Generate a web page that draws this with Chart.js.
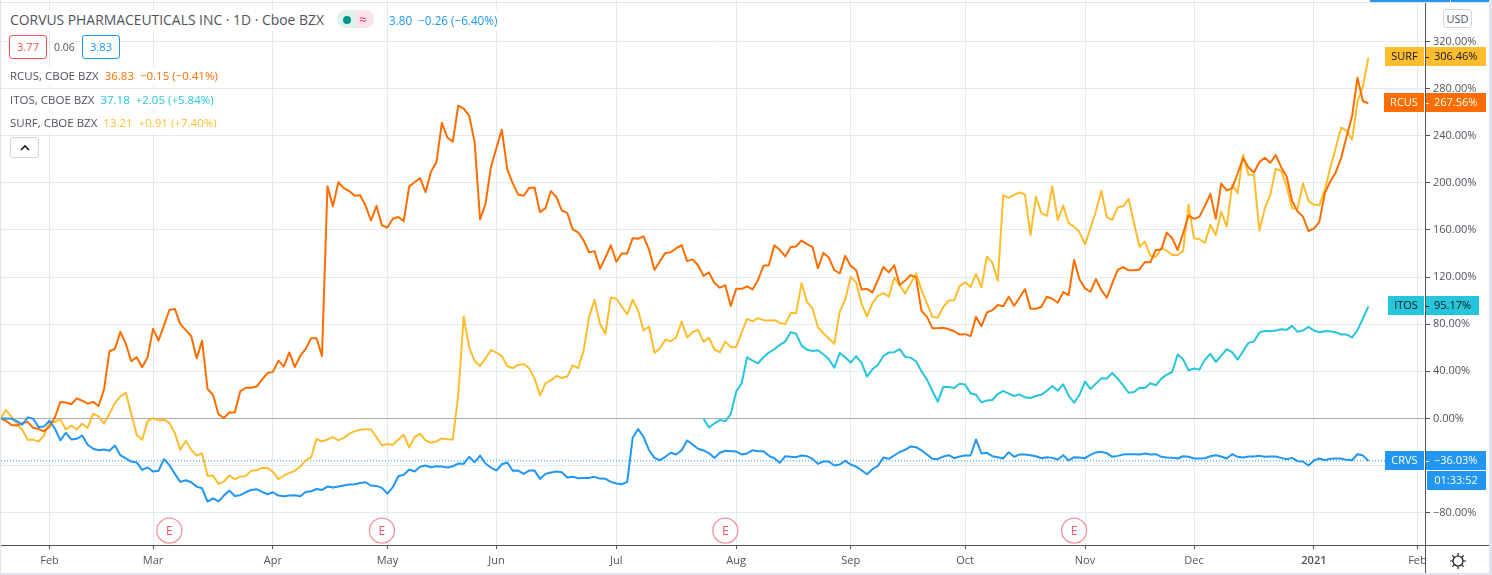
<!DOCTYPE html>
<html><head><meta charset="utf-8">
<script src="https://cdn.jsdelivr.net/npm/chart.js@4"></script>
<style>
html,body{margin:0;padding:0;background:#fff;overflow:hidden}
#wrap{position:relative;width:1492px;height:575px;font-family:"Open Sans",sans-serif;color:#50535e}
canvas{position:absolute;left:0;top:0}
.row{position:absolute;background:#fff;white-space:nowrap;font-size:11.5px;line-height:20px;height:20px;left:6px;padding:0 4px}
.box{position:absolute;background:#fff;border-radius:3px;text-align:center;box-sizing:border-box}
.abs{position:absolute}
</style></head><body>
<div id="wrap">
<canvas id="c" width="1492" height="575"></canvas>
<div class="row" style="top:10px;font-size:13.9px;width:320px;height:21px;line-height:20px">CORVUS PHARMACEUTICALS INC · 1D · Cboe BZX</div>
<div class="abs" style="left:337px;top:10px;width:37px;height:18px;border-radius:9px;background:#e0f1ee;overflow:hidden"><div class="abs" style="left:19px;top:0;width:18px;height:18px;background:#fce3ea"></div><div class="abs" style="left:6px;top:6px;width:8px;height:8px;border-radius:4px;background:#009688"></div><div class="abs" style="left:22px;top:0;font-size:13px;line-height:18px;color:#e91e63">≈</div></div>
<div class="abs" style="left:389px;top:10px;background:#fff;font-size:11.7px;line-height:21px;color:#2196f3;white-space:pre">3.80  −0.26 (−6.40%)</div>
<div class="box" style="left:9px;top:35px;width:38px;height:24px;border:1px solid #ef5350;color:#ef5350;font-size:11.2px;line-height:22px">3.77</div>
<div class="abs" style="left:54px;top:38px;font-size:10.5px;line-height:18px;background:#fff">0.06</div>
<div class="box" style="left:82px;top:35px;width:38px;height:24px;border:1px solid #2196f3;color:#2196f3;font-size:11.2px;line-height:22px">3.83</div>
<div class="row" style="top:66px">RCUS, CBOE BZX <span style="color:#ff6d00;white-space:pre"> 36.83  −0.15 (−0.41%)</span></div>
<div class="row" style="top:90px">ITOS, CBOE BZX <span style="color:#26c6da;white-space:pre"> 37.18  +2.05 (+5.84%)</span></div>
<div class="row" style="top:113px">SURF, CBOE BZX <span style="color:#fcbd2e;white-space:pre"> 13.21  +0.91 (+7.40%)</span></div>
<div class="box" style="left:10px;top:137px;width:29px;height:21px;border:1px solid #d1d4dc;color:#131722;font-size:12px;line-height:24px"><svg width="12" height="8" style="position:absolute;left:8px;top:6px"><path d="M2 6 L6 2 L10 6" fill="none" stroke="#131722" stroke-width="1.6"/></svg></div>
<div class="box" style="left:1443px;top:9px;width:29px;height:19px;border:1px solid #d1d4dc;font-size:11px;line-height:17px">USD</div>
<div class="abs" style="left:1370px;top:0;width:80px;height:2px;background:#2196f3"></div>
<div class="abs" style="left:1451px;top:0;width:38px;height:2px;background:#2196f3"></div>
<div class="abs" style="left:1425px;top:3px;width:1px;height:570px;background:#50535e"></div>
<div class="abs" style="left:0;top:545px;width:1489px;height:1px;background:#50535e"></div>
<div class="abs" style="left:0;top:2px;width:1489px;height:1px;background:#e0e3eb"></div>
<div class="abs" style="left:0;top:0;width:1px;height:575px;background:#e0e3eb"></div>
<div class="abs" style="left:1489px;top:0;width:3px;height:575px;background:#e0e3eb"></div>
<div class="abs" style="left:0;top:573px;width:1492px;height:2px;background:#e0e3eb"></div>
<svg class="abs" style="left:1449px;top:552px" width="18" height="18" viewBox="0 0 18 18"><circle cx="9" cy="9" r="5" fill="none" stroke="#131722" stroke-width="1.2"/><path d="M9 1V4M9 14V17M1 9H4M14 9H17M3.3 3.3L5.4 5.4M12.6 12.6L14.7 14.7M3.3 14.7L5.4 12.6M12.6 5.4L14.7 3.3" stroke="#131722" stroke-width="1.2"/></svg>
</div>
<script>
const xTickIndex=[9,28,50,71,91,113,135,156,177,199,219,241,260];
const xTickLabels=['Feb','Mar','Apr','May','Jun','Jul','Aug','Sep','Oct','Nov','Dec','2021','Feb'];
const yTickValues=[320,280,240,200,160,120,80,40,0,-40,-80];
const earningsIndex=[31,70,133,197];
const itosStart=129;
const RCUS=[0,-2,-5.5,-6,-4,-3,-8,-9,-11,-7,1,14,13.5,12,17,15,12.5,14,10.5,24.5,57,59,73.5,63.5,48.5,52,43.5,52,76,66,79,92,93,80,75,70,51,66,25,20,3.5,0.3,5,5,23,26,26,27,33,38.5,39.5,49,44,56,43.5,53,59,68,68,53,197,180,200.5,195.5,193,189,189.5,180.5,168,180.5,164,162,169.5,171,167.5,197,200.5,204,192,209.5,217.5,251,238.5,235,265.5,263,257,235,169,182,213.5,229.5,245,211.5,199.5,190,189,195.5,196,175,178.5,193,188,176.5,174.5,160.5,158,151,141,142,127,136.5,147,133,140,140,153,152.5,154.5,143.5,126,133.5,140.5,141,144.5,147,133.5,135,130,121,124,115,111,113,95.5,110,110,112,109.5,117.5,129.5,130,147,143,137.5,145.5,146,151,148,145.5,127.5,140.5,136.5,126,123,138,129.5,126,109.5,110,107,117.5,128.5,124,130,113.2,117,121.7,119.7,91.3,86.2,76.6,76.6,76.9,75.7,74,71.2,71.5,69.8,86.2,78.3,89.9,91.9,96.2,95.3,103.3,95.6,102.7,109.8,93,93,94.8,103.3,101.6,98.2,107.2,104.7,134.5,118,110.4,107.5,118.3,108.9,102.4,114.6,126,128.5,125.7,125.7,126.5,132.8,132.5,143,143.5,157.7,152.9,143,157.2,172.2,169.4,171.3,180.4,190.6,169.4,199.4,193.5,195.5,207.7,221,213,208.8,217.6,221.3,217,223.5,213.3,205.4,184.7,175.6,171.3,159.1,161.1,166.8,191.2,201.1,208.8,221,239.4,256.5,289.1,269.2,267.56];
const SURF=[0,7,1.7,-4.5,-9.6,-18.2,-18.2,-19.6,-14.5,-3,-3,-0.6,-9.4,-6,-9.4,-4.5,-8,4,1.7,-4.5,4,13,18.7,21.8,4,-13.9,-18.2,-2.3,0.3,-1.7,-1.1,-3.7,-12.5,-26.7,-19,-26.7,-31.5,-29.8,-48.8,-48.5,-55.6,-53.6,-48.5,-51.6,-49.4,-49,-44.3,-44,-42,-42,-45.4,-51.6,-48.5,-46.2,-44.5,-40.9,-35.7,-33.2,-17.3,-19.6,-17.9,-15.9,-18.7,-16.5,-13,-10.8,-9.6,-9.1,-9.4,-15.9,-23,-21.8,-22.4,-17.9,-13.9,-24.7,-15.9,-13,-18.7,-20.7,-19.6,-17,-17.6,-17.9,19.9,86.5,60.4,48.8,44.5,51,57.9,55.9,53,44.5,42.6,45.4,46.2,42.6,34,19.6,29.8,32.3,36,34.3,35.5,45.1,42.6,57.6,86,100.7,80.3,71.8,102.7,101.6,95,88.2,100.7,91.6,74.6,78,55.6,59.6,66.7,65.5,68.9,82.3,68.7,73.2,75.2,65,68.4,58.7,56.2,65.2,60.7,60.7,72.9,84.5,82.3,85.1,83.4,83.1,83.4,81.1,80,89.4,89.4,114.9,98.7,93.3,77.4,72.3,67.8,63.3,90.8,100.7,120,115.5,97.3,86.5,97.9,104.1,106.4,103.3,119.7,113,106,114.6,123.1,108.9,97.6,86.2,85.4,94.8,100.1,100.4,112.3,115.5,111.5,122.6,111.2,137.3,132.2,116.9,189.5,187.2,189.8,191.8,190,155.7,188.4,174.2,171.9,196.9,168.5,180.7,165.7,162.8,158,147.8,161.4,175.6,193.2,170.8,168.5,179.3,180.1,186.4,165.7,145.8,150.1,137.9,137.3,144.4,142.4,138.7,138.7,142.1,181.3,152.9,152.1,148.9,164.3,155.7,175.6,162.8,198.3,191.2,223.8,206.8,206.8,159.4,178.4,189.8,211.9,210.2,196.9,178.4,177.9,199.7,184.7,181.3,181,194,212.5,229.5,246.8,244.3,236.6,269.2,282,306.46];
const CRVS=[0,0,-0.3,-2.3,-5.4,0.9,-0.3,-7.4,-6.8,-2,-8.8,-18.7,-12.2,-17.9,-17.3,-14.5,-22.4,-25.8,-27,-26.4,-27.5,-23,-31.2,-34,-36.6,-37.4,-43.7,-41.7,-45.1,-44.5,-34.6,-39.7,-47.1,-53.9,-52.5,-54.2,-57.9,-59.3,-70.6,-67.8,-70.4,-65.5,-61.3,-65.8,-65.2,-62.7,-60.7,-60.1,-62.4,-64.4,-62.7,-65.5,-66.1,-65.5,-65.2,-66.1,-62.4,-61.8,-59.9,-60.7,-57.9,-58.7,-57.9,-57,-56.2,-55.9,-54.8,-54.2,-57,-57.3,-59,-63.8,-58.4,-49.1,-47.9,-43.4,-45.1,-41.1,-40,-41.4,-40.6,-40.9,-41.7,-40.6,-38.3,-38.6,-32.6,-37.2,-31.5,-38.3,-41.7,-44.3,-38.9,-37.4,-44.5,-44.3,-47.1,-44.3,-44.3,-51.3,-47.1,-46,-45.1,-45.7,-50.2,-49.6,-50.8,-50.5,-50.5,-49.6,-51.1,-51.3,-53.9,-55.3,-55.9,-53.9,-16.5,-9.1,-15.6,-27,-33.5,-35.5,-32.6,-29.2,-30.6,-27,-18.7,-22.1,-25.8,-27.2,-29.5,-33.5,-29.2,-27.5,-27.8,-28.1,-30.6,-29.8,-27,-27.8,-27.8,-31.8,-33.8,-37.7,-32.1,-32.6,-32.9,-31.5,-32.1,-34.3,-38.6,-36.6,-36.6,-40,-39.1,-36,-39.1,-40.9,-44,-47.4,-43.1,-40.3,-33.2,-34.3,-31.5,-28.5,-26.7,-23.8,-24.4,-27.2,-30.6,-34.3,-34.6,-32.3,-31.2,-33.8,-32.3,-31.5,-31.5,-17.9,-29.8,-29.2,-32.1,-32.9,-34,-28.7,-32.6,-30.6,-30.6,-31.2,-32.1,-33.8,-32.9,-33.5,-34.9,-31.2,-35.7,-32.9,-33.2,-33.8,-30.9,-28.9,-28.4,-29.5,-32.6,-31.8,-30.6,-30.4,-30.4,-30.6,-29.8,-30.6,-30.4,-32.6,-33.2,-33.5,-34,-32.1,-32.6,-34,-34,-33.8,-32.1,-31.2,-32.3,-34,-30.4,-32.6,-33.2,-32.3,-32.3,-31.8,-32.6,-32.3,-32.3,-33.5,-34.6,-33.5,-36.3,-36.6,-40,-35.7,-34,-35.5,-34.3,-34,-34,-35.2,-35.5,-30.4,-31.5,-36.03];
const ITOS=[0,-7.7,-4.3,-1.4,-2.3,3.7,22.7,29.8,51.9,49.1,46.8,51.9,55.9,58.7,62.4,65.2,73.2,71.8,61.8,58.2,57.3,57.9,54.5,50.2,43.1,55.6,51.9,47.4,52.8,47.4,35.5,41.7,45.4,53,55.9,56.2,58.8,52.2,51.6,48.5,40,32.9,23.3,14.2,26.7,26.7,25.8,29.5,28.7,21.3,20.1,13.6,15.3,15.6,20.7,23.3,21,19,20.4,17.9,17.3,19,20.1,23.5,27.5,23.5,28.9,19.3,13.3,20.1,31.2,25,29.5,34,33.8,38.6,33.8,28.1,21.8,22.4,26.1,25.8,29.8,28.1,33.8,37.2,39.4,54.2,50.2,40.9,42.3,41.4,49.9,54.8,47.9,53.3,58.7,56.2,49.9,57,64.1,65.2,72.9,74.3,74,74.6,75.7,75.2,78.6,73.5,74.6,77.7,74.6,73.2,74,74,73.2,71.2,71.2,68.7,74.9,84.8,95.17];
const COLORS={CRVS:'#2196f3',RCUS:'#ff6d00',ITOS:'#26c6da',SURF:'#fcbd2e'};
const FONT='"Open Sans", sans-serif';
const pts=(a,off=0)=>a.map((v,i)=>({x:i+off,y:v}));
const tags=[
 {n:'SURF',v:306.46,txt:'306.46%',bg:COLORS.SURF,fg:'#131722',lw:39,rw:61},
 {n:'RCUS',v:267.56,txt:'267.56%',bg:COLORS.RCUS,fg:'#ffffff',lw:40,rw:61},
 {n:'ITOS',v:95.17,txt:'95.17%',bg:COLORS.ITOS,fg:'#131722',lw:36,rw:54},
 {n:'CRVS',v:-36.03,txt:'−36.03%',bg:COLORS.CRVS,fg:'#ffffff',lw:39,rw:61}
];
const overlay={id:'overlay',afterDraw(ch){
 const c=ch.ctx,xs=ch.scales.x,ys=ch.scales.y,ax=xs.right;
 c.save();
 c.textBaseline='middle';
 c.font='500 11px '+FONT;
 for(const t of tags){
  const y=Math.round(ys.getPixelForValue(t.v));
  c.fillStyle=t.bg;
  c.fillRect(ax-1-t.lw,y-10,t.lw,19);
  c.fillRect(ax,y-10,t.rw,19);
  c.fillStyle=t.fg;c.fillRect(ax,y,4,1);
  c.textAlign='center';c.fillText(t.n,ax-1-t.lw/2,y);
  c.textAlign='left';c.fillText(t.txt,ax+9,y);
 }
 const cy=Math.round(ys.getPixelForValue(-36.03));
 c.fillStyle=COLORS.CRVS;c.fillRect(ax+2,cy+10,59,19);
 c.fillStyle='#fff';c.textAlign='center';c.fillText('01:33:52',ax+31,cy+20);
 c.font='12px '+FONT;
 for(const k of earningsIndex){
  const x=xs.getPixelForValue(k),y=ys.getPixelForValue(-95.3);
  c.beginPath();c.arc(x,y,12.5,0,Math.PI*2);c.fillStyle='#fff';c.fill();
  c.lineWidth=1.3;c.strokeStyle='#f4939f';c.stroke();
  c.fillStyle='#f0556a';c.textAlign='center';c.fillText('E',x,y+0.5);
 }
 c.restore();
}};
const ds=(label,data,color,extra={})=>Object.assign({label,data,borderColor:color,borderWidth:2,pointRadius:0,tension:0,fill:false,spanGaps:false,borderJoinStyle:'round'},extra);
new Chart(document.getElementById('c'),{
 type:'line',
 data:{datasets:[
  ds('CRVS',pts(CRVS),COLORS.CRVS),
  ds('RCUS',pts(RCUS),COLORS.RCUS),
  ds('ITOS',pts(ITOS,itosStart),COLORS.ITOS),
  ds('SURF',pts(SURF),COLORS.SURF),
  ds('CRVS last',[{x:-1,y:-36.03},{x:262,y:-36.03}],COLORS.CRVS,{borderWidth:1,borderDash:[1,2]})
 ]},
 plugins:[overlay],
 options:{
  responsive:false,animation:false,devicePixelRatio:1,
  layout:{padding:0},
  plugins:{legend:{display:false},tooltip:{enabled:false}},
  scales:{
   x:{type:'linear',min:-0.0826,max:261.385,
    afterBuildTicks(s){s.ticks=xTickIndex.map(v=>({value:v}));},
    afterFit(s){s.height=30;s.paddingLeft=0;s.paddingRight=0;},
    grid:{color:'#e1ecf2',lineWidth:1,tickColor:'#50535e',tickLength:4},
    border:{display:false},
    ticks:{autoSkip:false,maxRotation:0,minRotation:0,padding:5,color:'#50535e',
     font:c=>({family:FONT,size:11,weight:c.tick&&xTickLabels[xTickIndex.indexOf(c.tick.value)]==='2021'?'600':'400'}),
     callback:v=>xTickLabels[xTickIndex.indexOf(v)]}
   },
   y:{type:'linear',position:'right',min:-107.47,max:355.2,
    afterBuildTicks(s){s.ticks=yTickValues.map(v=>({value:v}));},
    afterFit(s){s.width=67;s.paddingTop=0;s.paddingBottom=0;},
    grid:{color:c=>c.tick&&c.tick.value===0?'#a9a8b5':'#e1ecf2',lineWidth:1,tickColor:'#50535e',tickLength:5},
    border:{display:false},
    ticks:{padding:3,color:'#50535e',font:{family:FONT,size:11},
     callback:v=>v===-40?'':(v<0?'−':'')+Math.abs(v).toFixed(2)+'%'}
   }
  }
 }
});
</script>
</body></html>
